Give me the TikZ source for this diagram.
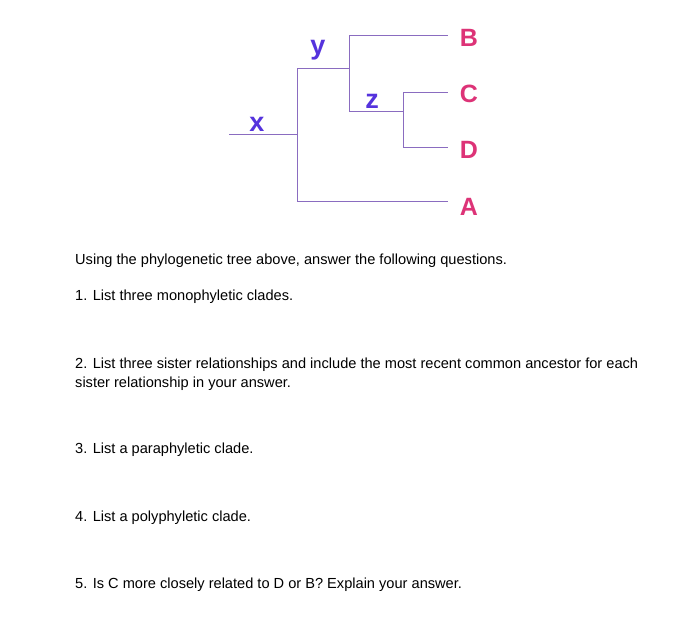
\documentclass[tikz,border=0pt]{standalone}
\usepackage{fontspec}
\setmainfont{Liberation Sans}
\definecolor{branch}{HTML}{8A6CC0}
\definecolor{inner}{HTML}{5533DD}
\definecolor{tip}{HTML}{DD3377}
\tikzset{
  br/.style={draw=branch, line width=1pt},
  innerlab/.style={text=inner, font=\fontsize{27}{27}\selectfont\bfseries, inner sep=0pt},
  tiplab/.style={text=tip, font=\fontsize{25}{25}\selectfont\bfseries, inner sep=0pt},
  qtext/.style={anchor=base west, inner sep=0pt, font=\fontsize{14.6}{19}\selectfont, align=left}
}
\begin{document}
\begin{tikzpicture}[x=1pt,y=-1pt]
\useasboundingbox[fill=white] (0,0) rectangle (700,617);
% tree coordinates
\coordinate (root) at (229,135);
\coordinate (xn) at (297,135);
\coordinate (xtop) at (297,69);
\coordinate (xbot) at (297,202);
\coordinate (yn) at (349,69);
\coordinate (ytop) at (349,36);
\coordinate (ybot) at (349,112);
\coordinate (zn) at (403,112);
\coordinate (ztop) at (403,93);
\coordinate (zbot) at (403,148);
\coordinate (tA) at (448,202);
\coordinate (tB) at (448,36);
\coordinate (tC) at (448,93);
\coordinate (tD) at (448,148);
\draw[br] (root) -- (xn);
\draw[br] (xtop) -- (xbot);
\draw[br] (xtop) -- (yn);
\draw[br] (xbot) -- (tA);
\draw[br] (ytop) -- (ybot);
\draw[br] (ytop) -- (tB);
\draw[br] (ybot) -- (zn);
\draw[br] (ztop) -- (zbot);
\draw[br] (ztop) -- (tC);
\draw[br] (zbot) -- (tD);
% labels
\node[innerlab] (lx) at (257,124) {x};
\node[innerlab] (ly) at (318,50) {y};
\node[innerlab] (lz) at (372,101) {z};
\node[tiplab] (lB) at (469,38) {B};
\node[tiplab] (lC) at (469,94) {C};
\node[tiplab] (lD) at (469,150) {D};
\node[tiplab] (lA) at (469,207) {A};
% questions
\node[qtext] (q0) at (75,265) {Using the phylogenetic tree above, answer the following questions.};
\node[qtext] (q1) at (75,300) {1. List three monophyletic clades.};
\node[qtext] (q2) at (75,387) {2. List three sister relationships and include the most recent common ancestor for each\\sister relationship in your answer.};
\node[qtext] (q3) at (75,453) {3. List a paraphyletic clade.};
\node[qtext] (q4) at (75,521) {4. List a polyphyletic clade.};
\node[qtext] (q5) at (75,588) {5. Is C more closely related to D or B? Explain your answer.};
\end{tikzpicture}
\end{document}
